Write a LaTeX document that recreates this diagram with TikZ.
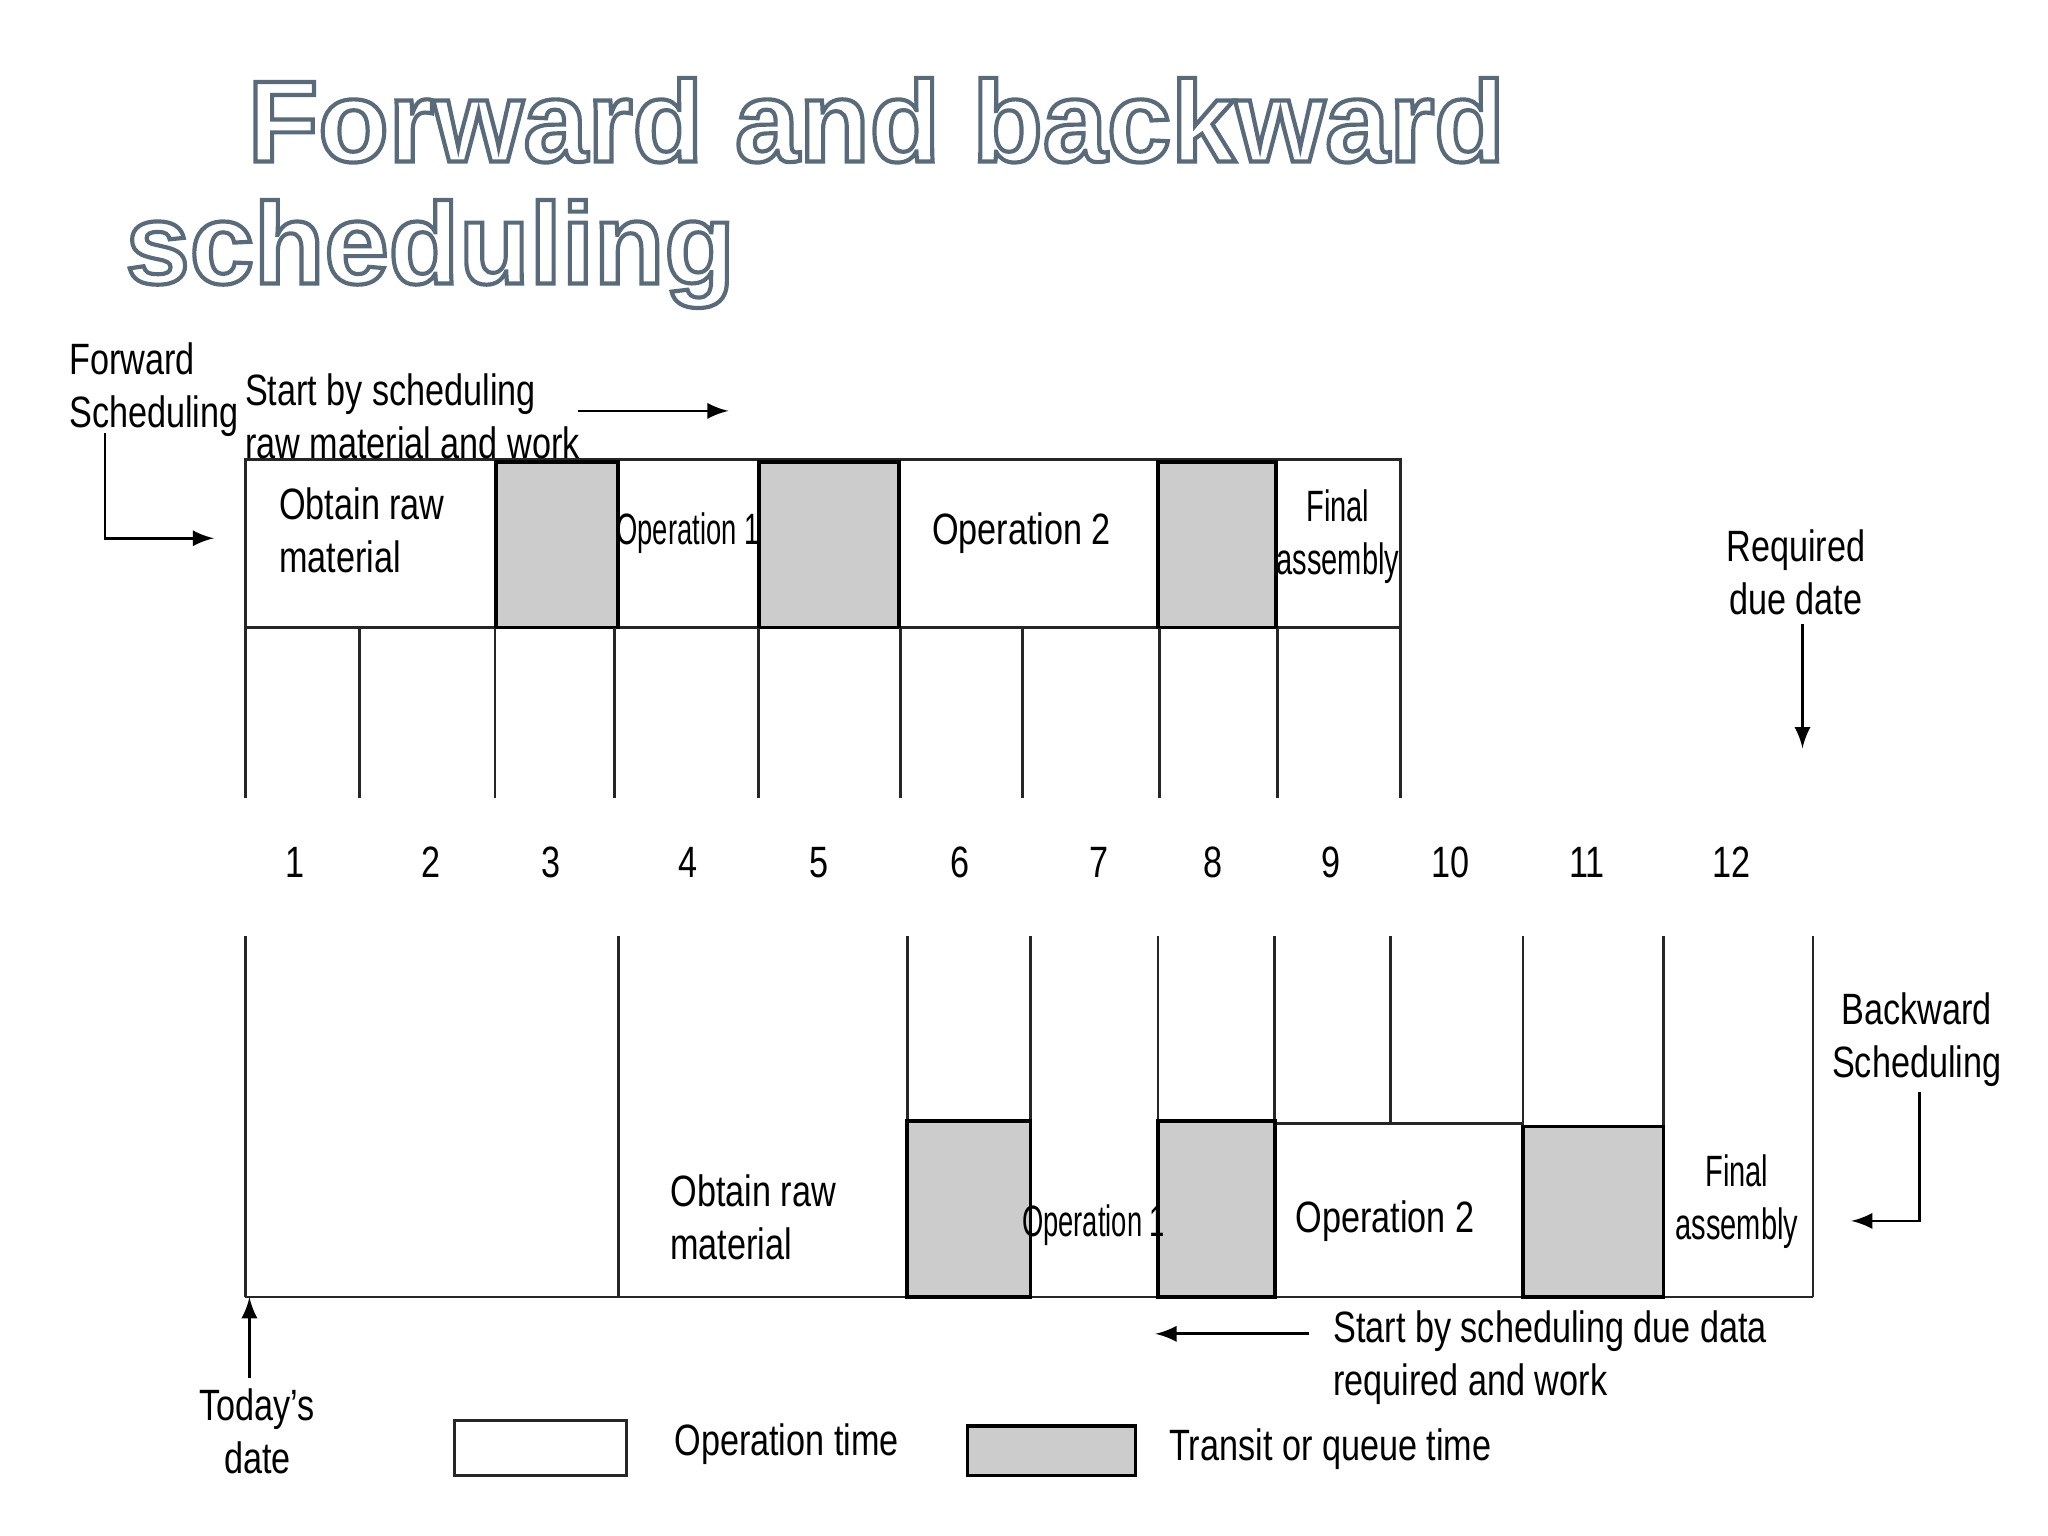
\documentclass[tikz,border=0pt]{standalone}
\usepackage{fontspec}
\setmainfont[FakeStretch=0.78]{Liberation Sans}
\newfontfamily\titlefont{Liberation Sans}
\begin{document}
\begin{tikzpicture}[x=0.01cm,y=-0.01cm,
  lab/.style={font=\fontsize{9.5}{11.5}\selectfont,align=left,inner sep=0},
  labc/.style={font=\fontsize{9.5}{11.5}\selectfont,align=center,inner sep=0},
  gbox/.style={fill=gray!40,draw=black,line width=0.8pt},
  ln/.style={line width=0.6pt,draw=black!85},
  arr/.style={-latex,line width=0.6pt}]
\useasboundingbox (0,0) rectangle (1560,1170);
% title
\node[anchor=base west,inner sep=0,font=\titlefont\bfseries\fontsize{25}{30}\selectfont] (t1) at (188,123)
 {\special{pdf:literal direct 1 Tr 0.9 w 0.35 0.42 0.48 RG}Forward and backward\special{pdf:literal direct 0 Tr}};
\node[anchor=base west,inner sep=0,font=\titlefont\bfseries\fontsize{25}{30}\selectfont] (t2) at (95,216)
 {\special{pdf:literal direct 1 Tr 0.9 w 0.35 0.42 0.48 RG}scheduling\special{pdf:literal direct 0 Tr}};
% top chart
\draw[ln] (187,350) rectangle (1067,478);
\draw[gbox] (378,352) rectangle (471,478);
\draw[gbox] (578,352) rectangle (685,478);
\draw[gbox] (882,352) rectangle (972,478);
\foreach \x in {187,274,377,468,578,686,779,883,973,1067} \draw[ln] (\x,478) -- (\x,608);
\node[lab,anchor=west] (a1) at (212,404) {Obtain raw\\material};
\node[lab,anchor=center] (a2) at (524,406) {\scalebox{0.8}[1]{Operation 1}};
\node[lab] (a3) at (778,406) {Operation 2};
\node[labc] (a4) at (1019,409) {\scalebox{0.85}[1]{Final}\\\scalebox{0.85}[1]{assembly}};
% numbers
\foreach \x [count=\i] in {225,328,420,524,624,731,837,924,1014,1105,1209,1319}
  \node[labc] (n\i) at (\x,657) {\i};
% bottom chart
\draw[ln] (187,988) -- (1381,988);
\foreach \x in {187,471,691,785,882,971,1160,1267,1381} \draw[ln] (\x,713) -- (\x,988);
\draw[ln] (1059,713) -- (1059,856);
\draw[ln] (971,856) -- (1160,856);
\draw[gbox] (691,854) rectangle (785,988);
\draw[gbox] (882,854) rectangle (971,988);
\draw[gbox] (1160,858) rectangle (1267,988);
\node[lab,anchor=west] (b1) at (510,927) {Obtain raw\\material};
\node[lab] (b2) at (833,933) {\scalebox{0.8}[1]{Operation 1}};
\node[lab] (b3) at (1055,930) {Operation 2};
\node[labc] (b4) at (1323,915) {\scalebox{0.85}[1]{Final}\\\scalebox{0.85}[1]{assembly}};
% annotations
\node[lab,anchor=north west] (fs) at (52,260) {Forward\\Scheduling};
\coordinate (fa) at (80,330); \coordinate (fb) at (80,410); \coordinate (fc) at (163,410);
\draw[arr] (fa) -- (fb) -- (fc);
\node[lab,anchor=north west] (st) at (186,284) {Start by scheduling\\raw material and work};
\coordinate (sa) at (440,313); \coordinate (sb) at (555,313);
\draw[arr] (sa) -- (sb);
\node[labc] (rd) at (1368,436) {Required\\due date};
\coordinate (ra) at (1373,475); \coordinate (rb) at (1373,570);
\draw[arr] (ra) -- (rb);
\node[labc] (bs) at (1460,792) {Backward\\Scheduling};
\coordinate (ba) at (1462,832); \coordinate (bb) at (1462,930); \coordinate (bc) at (1410,930);
\draw[arr] (ba) -- (bb) -- (bc);
\node[labc] (td) at (196,1090) {Today's\\date};
\coordinate (ta) at (190,1050); \coordinate (tb) at (190,988);
\draw[arr] (ta) -- (tb);
\node[lab,anchor=west] (sd) at (1015,1034) {Start by scheduling due data\\required and work};
\coordinate (da) at (997,1016); \coordinate (db) at (880,1016);
\draw[arr] (da) -- (db);
% legend
\draw[ln] (346,1082) rectangle (477,1124);
\node[lab,anchor=west] (l1) at (513,1100) {Operation time};
\draw[gbox] (737,1086) rectangle (865,1124);
\node[lab,anchor=west] (l2) at (890,1104) {Transit or queue time};
\end{tikzpicture}
\end{document}
